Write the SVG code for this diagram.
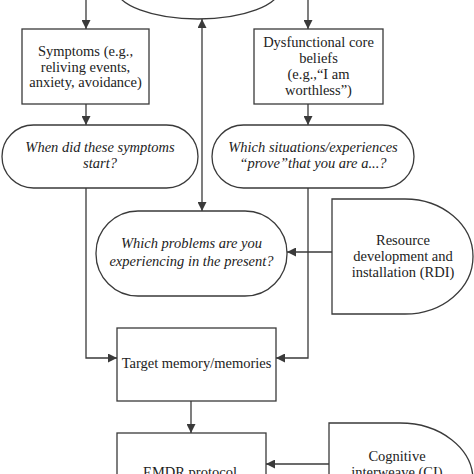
<svg xmlns="http://www.w3.org/2000/svg" width="474" height="474" viewBox="0 0 474 474">
<style>
.s{fill:#fff;stroke:#3a3a3a;stroke-width:1.3}
.c{fill:none;stroke:#3a3a3a;stroke-width:1.3}
text{font-family:"Liberation Serif","Times New Roman",serif;font-size:14.5px;fill:#222;text-anchor:middle}
.i{font-style:italic}
</style>
<defs>
<marker id="ah" viewBox="0 0 10 10" refX="10" refY="5" markerWidth="9" markerHeight="9" markerUnits="userSpaceOnUse" orient="auto-start-reverse">
<path d="M0,0L10,5L0,10Z" fill="#3a3a3a"/>
</marker>
</defs>
<rect width="474" height="474" fill="#fff"/>
<g id="connectors">
<path class="c" d="M86,0V29" marker-end="url(#ah)"/>
<path class="c" d="M308,0V29" marker-end="url(#ah)"/>
<path class="c" d="M86,104V125" marker-end="url(#ah)"/>
<path class="c" d="M308,104V125" marker-end="url(#ah)"/>
<path class="c" d="M202,19V211" marker-start="url(#ah)" marker-end="url(#ah)"/>
<path class="c" d="M86,188V358H117" marker-end="url(#ah)"/>
<path class="c" d="M308,188V358H276" marker-end="url(#ah)"/>
<path class="c" d="M332,252H287" marker-end="url(#ah)"/>
<path class="c" d="M191,401V433" marker-end="url(#ah)"/>
<path class="c" d="M329,464H266" marker-end="url(#ah)"/>
</g>
<g id="top">
<ellipse class="s" cx="198" cy="-12" rx="82" ry="31"/>
</g>
<g id="symptoms">
<rect class="s" x="22" y="29" width="127" height="75"/>
<text x="85.5" y="56">Symptoms (e.g.,</text>
<text x="85.5" y="72">reliving events,</text>
<text x="85.5" y="87">anxiety, avoidance)</text>
</g>
<g id="beliefs">
<rect class="s" x="254" y="29" width="129" height="75"/>
<text x="318.5" y="47">Dysfunctional core</text>
<text x="318.5" y="63">beliefs</text>
<text x="318.5" y="79">(e.g.,“I am</text>
<text x="318.5" y="95">worthless”)</text>
</g>
<g id="q-start">
<rect class="s" x="2" y="125" width="196" height="63" rx="31.5"/>
<text class="i" x="100" y="152">When did these symptoms</text>
<text class="i" x="100" y="168">start?</text>
</g>
<g id="q-prove">
<rect class="s" x="212" y="125" width="202" height="63" rx="31.5"/>
<text class="i" x="313" y="152">Which situations/experiences</text>
<text class="i" x="313" y="168">“prove”that you are a...?</text>
</g>
<g id="q-present">
<rect class="s" x="96" y="211" width="191" height="85" rx="42"/>
<text class="i" x="191.5" y="248">Which problems are you</text>
<text class="i" x="191.5" y="266">experiencing in the present?</text>
</g>
<g id="rdi">
<path class="s" d="M332,199H405A68,57.5 0 0 1 405,314H332Z"/>
<text x="403" y="245">Resource</text>
<text x="403" y="261">development and</text>
<text x="403" y="277">installation (RDI)</text>
</g>
<g id="target">
<rect class="s" x="117" y="328" width="159" height="73"/>
<text x="196.5" y="368">Target memory/memories</text>
</g>
<g id="emdr">
<rect class="s" x="117" y="433" width="149" height="80"/>
<text x="190" y="477">EMDR protocol</text>
</g>
<g id="ci">
<path class="s" d="M329,423H400A73,57 0 0 1 400,537H329Z"/>
<text x="397" y="461">Cognitive</text>
<text x="397" y="477">interweave (CI)</text>
</g>
</svg>
